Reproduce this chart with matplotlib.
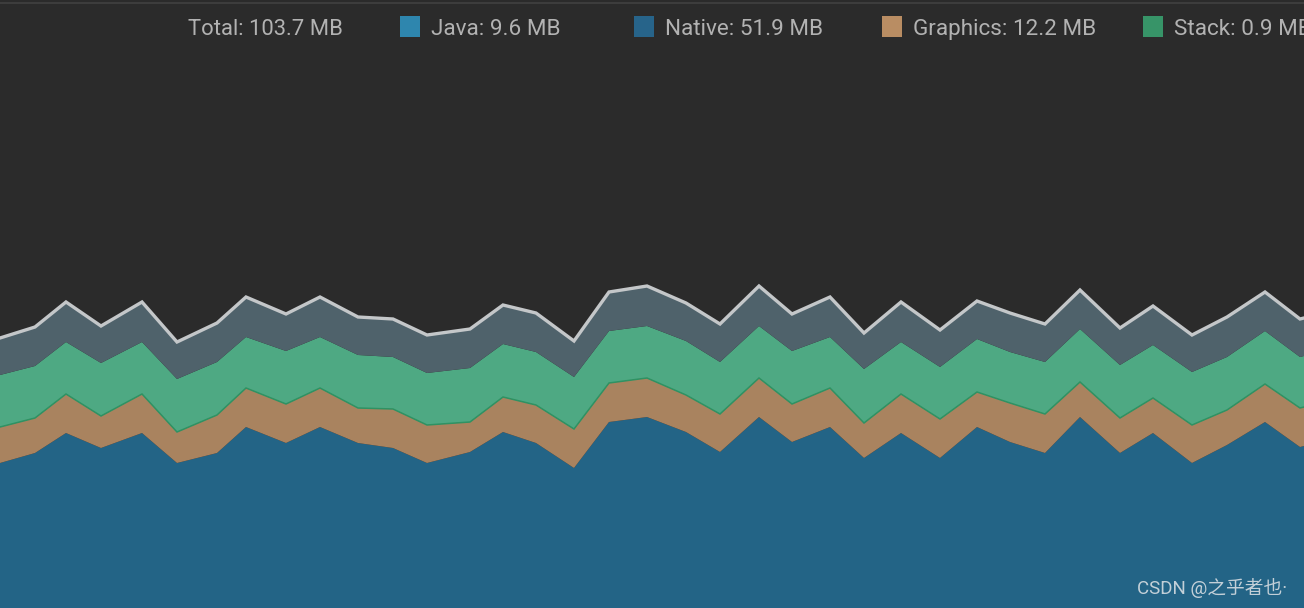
import matplotlib
matplotlib.use('Agg')
import matplotlib.pyplot as plt
from matplotlib.patches import Rectangle

plt.rcParams['font.family'] = ['Roboto', 'Noto Sans CJK SC', 'DejaVu Sans']

# sample positions and layer heights
samples = [0, 35, 66, 101, 142, 177, 217, 246, 286, 320, 358, 393, 427, 470, 503, 536, 574, 609, 647,
           686, 720, 759, 792, 830, 864, 901, 940, 977, 1010, 1045, 1080, 1120, 1153, 1192, 1227, 1265, 1300, 1304]
native = [145, 155, 175, 160, 175, 145, 155, 181, 165, 181, 165, 160, 145, 156, 176, 165, 140, 186, 191,
          176, 156, 191, 166, 181, 150, 175, 150, 181, 166, 155, 191, 155, 175, 145, 163, 186, 161, 162]
graphics = [36, 35, 39, 32, 39, 31, 38, 39, 39, 39, 35, 39, 38, 30, 35, 38, 39, 39, 39,
            37, 38, 39, 38, 39, 35, 39, 39, 35, 39, 39, 35, 35, 35, 38, 35, 38, 39, 39]
stack = [52, 52, 52, 53, 52, 53, 53, 51, 53, 51, 53, 52, 52, 54, 53, 53, 52, 52, 52,
         54, 52, 52, 53, 51, 54, 52, 52, 53, 51, 52, 53, 53, 53, 53, 53, 53, 51, 51]
other = [37, 39, 40, 37, 40, 37, 39, 40, 37, 40, 38, 38, 38, 39, 39, 39, 36, 39, 40,
         38, 38, 40, 37, 40, 36, 40, 37, 38, 39, 38, 39, 37, 39, 37, 40, 39, 38, 38]

legend_labels = ['Java: 9.6 MB', 'Native: 51.9 MB', 'Graphics: 12.2 MB', 'Stack: 0.9 MB']
legend_colors = ['#2e86ae', '#27648a', '#b98d63', '#379468']
legend_x = [400, 634, 882, 1143]

BG = '#2b2b2b'
TEXT = '#b2b2b2'

fig = plt.figure(figsize=(13.04, 6.08), dpi=100, facecolor=BG)
ax = fig.add_axes([0, 0, 1, 1])
ax.set_xlim(0, 1304)
ax.set_ylim(0, 608)
ax.set_facecolor(BG)
ax.axis('off')

ax.stackplot(samples, native, graphics, stack, other,
             colors=['#236486', '#a9835f', '#4ea983', '#4f626b'], linewidth=0)

bottom = [a + b for a, b in zip(native, graphics)]
top = [a + b + c + d for a, b, c, d in zip(native, graphics, stack, other)]
ax.plot(samples, bottom, color='#2f9263', lw=1.1, solid_joinstyle='miter')
ax.plot(samples, top, color='#c4c7c9', lw=2.4, solid_joinstyle='miter')

# thin rule along the top edge
ax.axhline(605, color='#3d3d3d', lw=1.5)

ax.text(188, 573, 'Total: 103.7 MB', color=TEXT, fontsize=15.8, va='baseline', ha='left')
for x, label, color in zip(legend_x, legend_labels, legend_colors):
    ax.add_patch(Rectangle((x, 571), 20, 21, facecolor=color, edgecolor='none'))
    ax.text(x + 31, 573, label, color=TEXT, fontsize=16.2, va='baseline', ha='left', clip_on=True)

ax.text(1137, 20, 'CSDN @之乎者也·', color='#c3d0d8', fontsize=13.5, va='center', ha='left')

fig.savefig('out.png', dpi=100, facecolor=BG)
